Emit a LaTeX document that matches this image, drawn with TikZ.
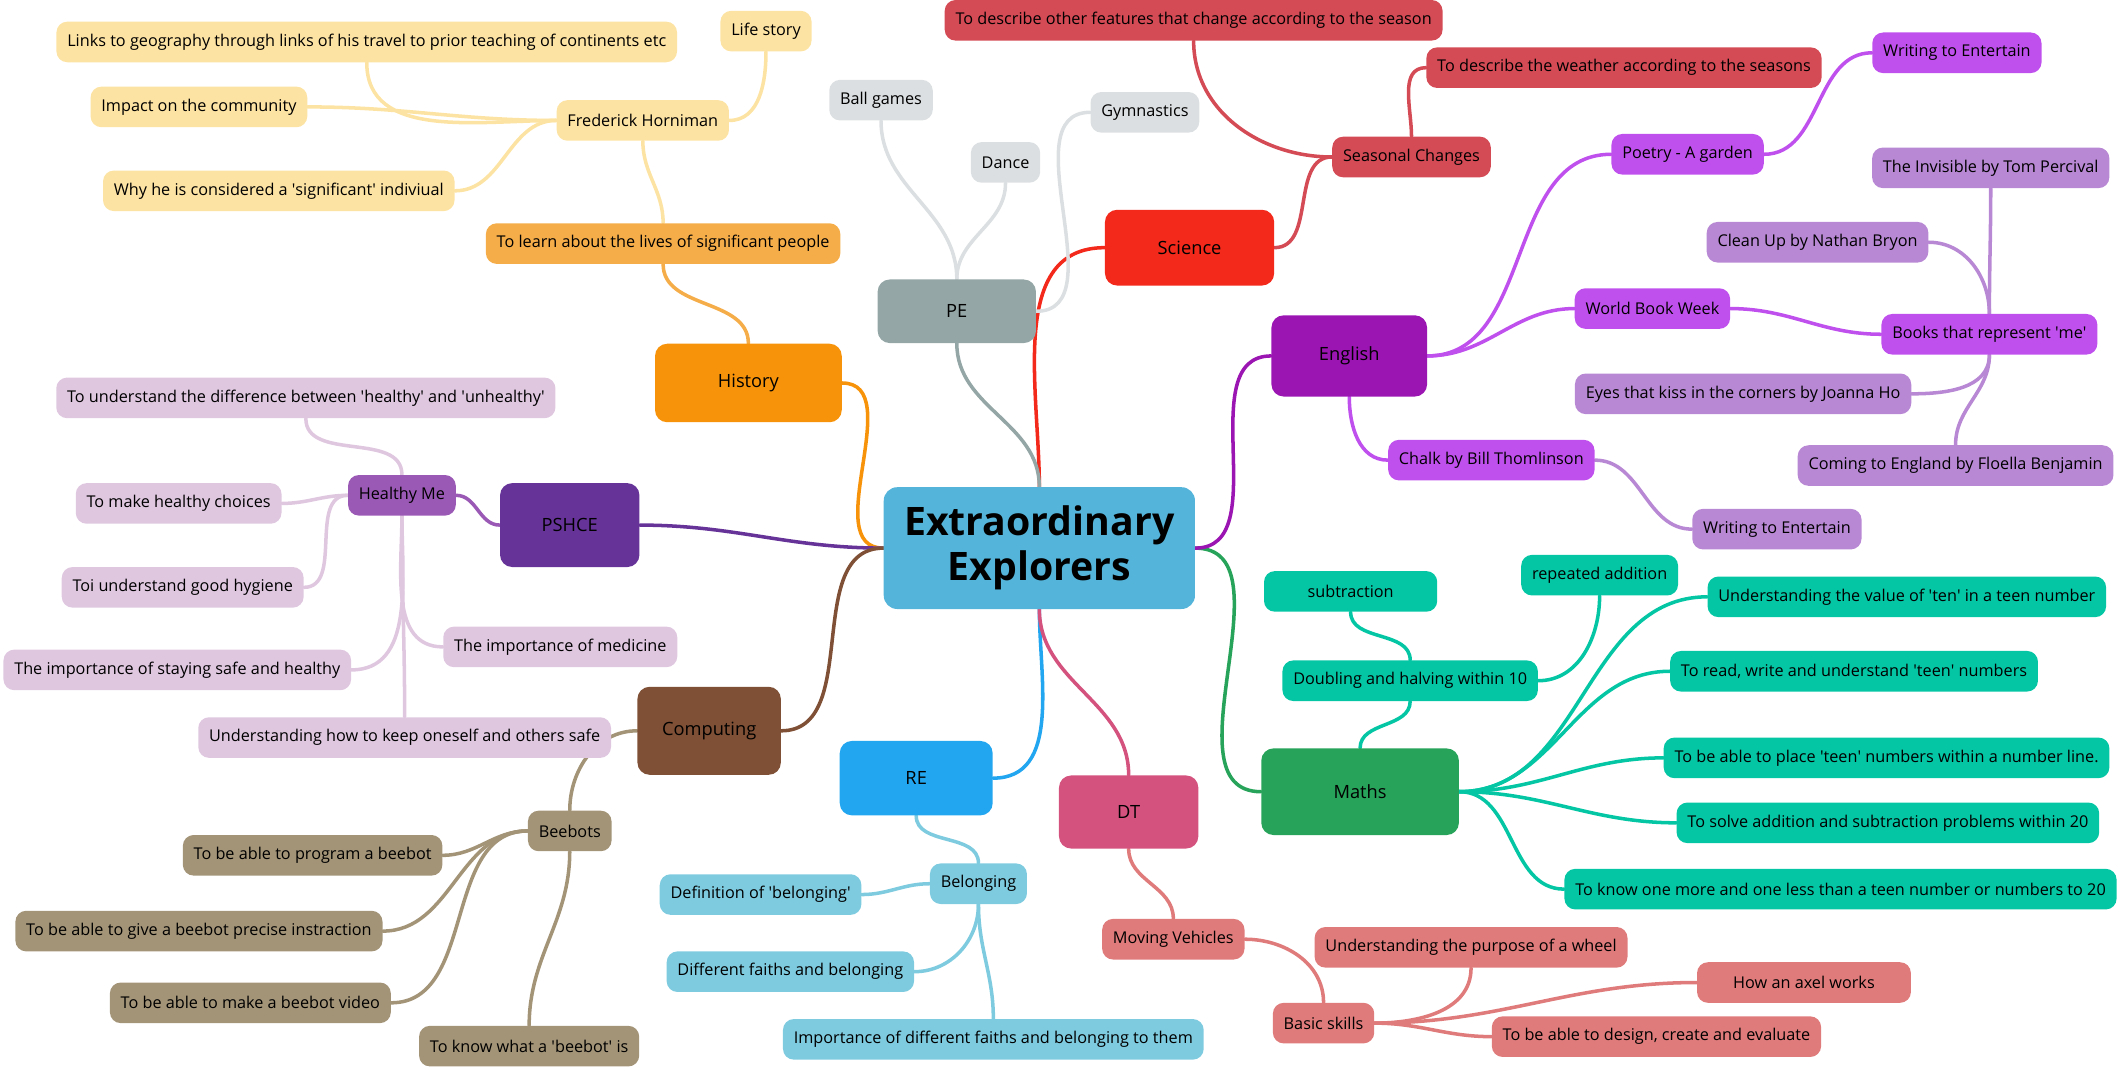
\documentclass[tikz,border=0pt]{standalone}
\usepackage{fontspec}
\setmainfont{Open Sans}
\usetikzlibrary{backgrounds}
\newcommand\qq{\textquotesingle}
\begin{document}
\begin{tikzpicture}[x=1pt,y=-1pt,
 n/.style={rounded corners=8pt,minimum height=30pt,inner xsep=8pt,font=\fontsize{12}{13}\selectfont,text=black},
 m/.style={rounded corners=9pt,minimum height=58pt,font=\fontsize{13.5}{15}\selectfont,text=black},
 e/.style={line width=2.6pt,line cap=round}]
\useasboundingbox (0,0) rectangle (1568,790);
\definecolor{cC}{HTML}{55B4D9}
\definecolor{hO}{HTML}{F7930A}\definecolor{hO2}{HTML}{F5AD4A}\definecolor{hY}{HTML}{FDE3A3}
\definecolor{pP}{HTML}{663399}\definecolor{pP2}{HTML}{9B59B6}\definecolor{pL}{HTML}{DFC7E0}
\definecolor{cB}{HTML}{7F5035}\definecolor{cT}{HTML}{A39478}
\definecolor{rB}{HTML}{23A6F0}\definecolor{rL}{HTML}{7ECBDF}
\definecolor{dP}{HTML}{D4537E}\definecolor{dL}{HTML}{E07B7B}
\definecolor{mG}{HTML}{27A35A}\definecolor{mT}{HTML}{05C6A4}
\definecolor{eP}{HTML}{9B15B3}\definecolor{eP2}{HTML}{C050EE}\definecolor{eL}{HTML}{B888D4}
\definecolor{sR}{HTML}{F2291B}\definecolor{sR2}{HTML}{D44A55}
\definecolor{gG}{HTML}{94A6A5}\definecolor{gL}{HTML}{DCDFE1}

% main nodes
\node[fill=cC,rounded corners=10pt,minimum width=230pt,minimum height=90pt,align=center,font=\fontsize{29}{33}\selectfont\bfseries] (c) at (768,405) {Extraordinary\\Explorers};
\node[m,fill=hO,minimum width=138pt] (hist) at (553,283) {History};
\node[m,fill=pP,minimum width=103pt,minimum height=62pt] (pshce) at (421,388) {PSHCE};
\node[m,fill=cB,minimum width=106pt,minimum height=65pt] (comp) at (524,540) {Computing};
\node[m,fill=rB,minimum width=113pt,minimum height=55pt] (re) at (677,575) {RE};
\node[m,fill=dP,minimum width=103pt,minimum height=54pt] (dt) at (834,600) {DT};
\node[m,fill=mG,minimum width=146pt,minimum height=64pt] (maths) at (1005,585) {Maths};
\node[m,fill=eP,minimum width=115pt,minimum height=60pt] (eng) at (997,263) {English};
\node[m,fill=sR,minimum width=125pt,minimum height=56pt] (sci) at (879,183) {Science};
\node[m,fill=gG,minimum width=117pt,minimum height=47pt] (pe) at (707,230) {PE};

% History
\node[n,fill=hO2] (h1) at (490,180) {To learn about the lives of significant people};
\node[n,fill=hY] (h2) at (475,89) {Frederick Horniman};
\node[n,fill=hY] (h3) at (271,31) {Links to geography through links of his travel to prior teaching of continents etc};
\node[n,fill=hY] (h4) at (566,23) {Life story};
\node[n,fill=hY] (h5) at (147,79) {Impact on the community};
\node[n,fill=hY] (h6) at (206,141) {Why he is considered a \qq significant\qq\ indiviual};
% PSHCE
\node[n,fill=pP2] (p1) at (297,366) {Healthy Me};
\node[n,fill=pL] (p2) at (226,294) {To understand the difference between \qq healthy\qq\ and \qq unhealthy\qq};
\node[n,fill=pL] (p3) at (132,372) {To make healthy choices};
\node[n,fill=pL] (p4) at (135,434) {Toi understand good hygiene};
\node[n,fill=pL] (p5) at (414,478) {The importance of medicine};
\node[n,fill=pL] (p6) at (131,495) {The importance of staying safe and healthy};
\node[n,fill=pL] (p7) at (299,545) {Understanding how to keep oneself and others safe};
% Computing
\node[n,fill=cT] (b1) at (421,614) {Beebots};
\node[n,fill=cT] (b2) at (231,632) {To be able to program a beebot};
\node[n,fill=cT] (b3) at (147,688) {To be able to give a beebot precise instraction};
\node[n,fill=cT] (b4) at (185,741) {To be able to make a beebot video};
\node[n,fill=cT] (b5) at (391,773) {To know what a \qq beebot\qq\ is};
% RE
\node[n,fill=rL] (r1) at (723,653) {Belonging};
\node[n,fill=rL] (r2) at (562,661) {Definition of \qq belonging\qq};
\node[n,fill=rL] (r3) at (584,718) {Different faiths and belonging};
\node[n,fill=rL] (r4) at (734,768) {Importance of different faiths and belonging to them};
% DT
\node[n,fill=dL] (d1) at (867,694) {Moving Vehicles};
\node[n,fill=dL] (d2) at (978,756) {Basic skills};
\node[n,fill=dL] (d3) at (1087,700) {Understanding the purpose of a wheel};
\node[n,fill=dL,minimum width=158pt] (d4) at (1333,726) {How an axel works};
\node[n,fill=dL] (d5) at (1224,766) {To be able to design, create and evaluate};
% Maths
\node[n,fill=mT] (m1) at (1042,503) {Doubling and halving within 10};
\node[n,fill=mT,minimum width=128pt] (m2) at (998,437) {subtraction};
\node[n,fill=mT] (m3) at (1182,425) {repeated addition};
\node[n,fill=mT] (m4) at (1409,441) {Understanding the value of \qq ten\qq\ in a teen number};
\node[n,fill=mT] (m5) at (1370,496) {To read, write and understand \qq teen\qq\ numbers};
\node[n,fill=mT] (m6) at (1394,560) {To be able to place \qq teen\qq\ numbers within a number line.};
\node[n,fill=mT] (m7) at (1395,608) {To solve addition and subtraction problems within 20};
\node[n,fill=mT] (m8) at (1360,657) {To know one more and one less than a teen number or numbers to 20};
% English
\node[n,fill=eP2] (e1) at (1247,114) {Poetry - A garden};
\node[n,fill=eP2] (e2) at (1446,39) {Writing to Entertain};
\node[n,fill=eP2] (e3) at (1221,228) {World Book Week};
\node[n,fill=eP2] (e4) at (1470,247) {Books that represent \qq me\qq};
\node[n,fill=eL] (e5) at (1471,124) {The Invisible by Tom Percival};
\node[n,fill=eL] (e6) at (1343,179) {Clean Up by Nathan Bryon};
\node[n,fill=eL] (e7) at (1288,291) {Eyes that kiss in the corners by Joanna Ho};
\node[n,fill=eL] (e8) at (1445,344) {Coming to England by Floella Benjamin};
\node[n,fill=eP2] (e9) at (1102,340) {Chalk by Bill Thomlinson};
\node[n,fill=eL] (e10) at (1313,391) {Writing to Entertain};
% Science
\node[n,fill=sR2] (s1) at (1043,116) {Seasonal Changes};
\node[n,fill=sR2] (s2) at (882,15) {To describe other features that change according to the season};
\node[n,fill=sR2] (s3) at (1200,50) {To describe the weather according to the seasons};
% PE
\node[n,fill=gL] (g1) at (651,74) {Ball games};
\node[n,fill=gL] (g2) at (743,120) {Dance};
\node[n,fill=gL] (g3) at (846,83) {Gymnastics};

\begin{scope}[on background layer]
% main
\draw[e,hO] (c.west) to[out=180,in=0] (hist.east);
\draw[e,pP] (c.west) to[out=180,in=0] (pshce.east);
\draw[e,cB] (c.west) to[out=180,in=0] (comp.east);
\draw[e,rB] (c.south) to[out=-90,in=0] (re.east);
\draw[e,dP] (c.south) to[out=-90,in=90] (dt.north);
\draw[e,mG] (c.east) to[out=0,in=180] (maths.west);
\draw[e,eP] (c.east) to[out=0,in=180] (eng.west);
\draw[e,sR] (c.north) to[out=90,in=180] (sci.west);
\draw[e,gG] (c.north) to[out=90,in=-90] (pe.south);
% history
\draw[e,hO2] (hist.north) to[out=90,in=-90] (h1.south);
\draw[e,hY] (h1.north) to[out=90,in=-90] (h2.south);
\draw[e,hY] (h2.west) to[out=180,in=-90] (h3.south);
\draw[e,hY] (h2.east) to[out=0,in=-90] (h4.south);
\draw[e,hY] (h2.west) to[out=180,in=0] (h5.east);
\draw[e,hY] (h2.west) to[out=180,in=0] (h6.east);
% pshce
\draw[e,pP2] (pshce.west) to[out=180,in=0] (p1.east);
\draw[e,pL] (p1.north) to[out=90,in=-90] (p2.south);
\draw[e,pL] (p1.west) to[out=180,in=0] (p3.east);
\draw[e,pL] (p1.west) to[out=180,in=0] (p4.east);
\draw[e,pL] (p1.south) to[out=-90,in=180] (p5.west);
\draw[e,pL] (p1.south) to[out=-90,in=0] (p6.east);
\draw[e,pL] (p1.south) to[out=-90,in=90] (p7.north);
% computing
\draw[e,cT] (comp.west) to[out=180,in=90] (b1.north);
\draw[e,cT] (b1.west) to[out=180,in=0] (b2.east);
\draw[e,cT] (b1.west) to[out=180,in=0] (b3.east);
\draw[e,cT] (b1.west) to[out=180,in=0] (b4.east);
\draw[e,cT] (b1.south) to[out=-90,in=90] (b5.north);
% RE
\draw[e,rL] (re.south) to[out=-90,in=90] (r1.north);
\draw[e,rL] (r1.west) to[out=180,in=0] (r2.east);
\draw[e,rL] (r1.south) to[out=-90,in=0] (r3.east);
\draw[e,rL] (r1.south) to[out=-90,in=90] (r4.north);
% DT
\draw[e,dL] (dt.south) to[out=-90,in=90] (d1.north);
\draw[e,dL] (d1.east) to[out=0,in=90] (d2.north);
\draw[e,dL] (d2.east) to[out=0,in=-90] (d3.south);
\draw[e,dL] (d2.east) to[out=0,in=180] (d4.west);
\draw[e,dL] (d2.east) to[out=0,in=180] (d5.west);
% maths
\draw[e,mT] (maths.north) to[out=90,in=-90] (m1.south);
\draw[e,mT] (m1.north) to[out=90,in=-90] (m2.south);
\draw[e,mT] (m1.east) to[out=0,in=-90] (m3.south);
\foreach \k in {m4,m5,m6,m7,m8} \draw[e,mT] (maths.east) to[out=0,in=180] (\k.west);
% english
\draw[e,eP2] (eng.east) to[out=0,in=180] (e1.west);
\draw[e,eP2] (eng.east) to[out=0,in=180] (e3.west);
\draw[e,eP2] (eng.south) to[out=-90,in=180] (e9.west);
\draw[e,eP2] (e1.east) to[out=0,in=180] (e2.west);
\draw[e,eP2] (e3.east) to[out=0,in=180] (e4.west);
\draw[e,eL] (e4.north) to[out=90,in=-90] (e5.south);
\draw[e,eL] (e4.north) to[out=90,in=0] (e6.east);
\draw[e,eL] (e4.south) to[out=-90,in=0] (e7.east);
\draw[e,eL] (e4.south) to[out=-90,in=90] (e8.north);
\draw[e,eL] (e9.east) to[out=0,in=180] (e10.west);
% science
\draw[e,sR2] (sci.east) to[out=0,in=180] (s1.west);
\draw[e,sR2] (s1.west) to[out=180,in=-90] (s2.south);
\draw[e,sR2] (s1.north) to[out=90,in=180] (s3.west);
% PE
\draw[e,gL] (pe.north) to[out=90,in=-90] (g1.south);
\draw[e,gL] (pe.north) to[out=90,in=-90] (g2.south);
\draw[e,gL] (pe.east) to[out=0,in=180] (g3.west);
\end{scope}
\end{tikzpicture}
\end{document}
